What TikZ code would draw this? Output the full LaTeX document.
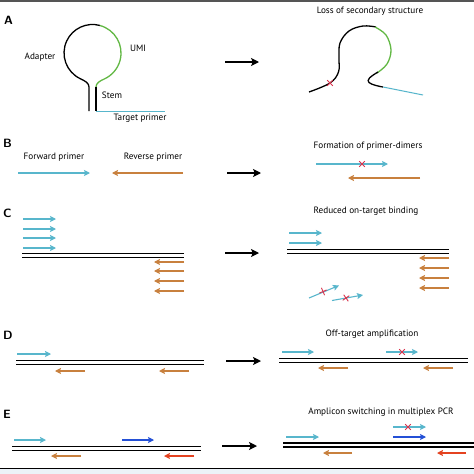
\documentclass[tikz,border=0pt]{standalone}
\usepackage{fontspec}
\setmainfont{PT Sans}
\usetikzlibrary{arrows.meta}
\definecolor{cyanP}{RGB}{88,182,204}
\definecolor{orangeP}{RGB}{200,128,62}
\definecolor{redX}{RGB}{218,52,78}
\definecolor{blueP}{RGB}{36,80,214}
\definecolor{redP}{RGB}{228,66,32}
\definecolor{greenP}{RGB}{98,184,68}
\definecolor{topbar}{RGB}{85,85,85}
\definecolor{botfill}{RGB}{236,242,248}
\tikzset{
  prim/.style={line width=1.1pt,-{Stealth[length=6pt,width=6pt,inset=1.2pt]}},
  fw/.style={prim,cyanP},
  rv/.style={prim,orangeP},
  bw/.style={prim,blueP},
  rr/.style={prim,redP},
  bigarr/.style={line width=1.3pt,black,-{Stealth[length=8pt,width=8pt,inset=1.8pt]}},
  dna/.style={line width=1.2pt,black},
  lbl/.style={font=\fontsize{9.2}{11}\selectfont,inner sep=0pt},
  panel/.style={font=\sffamily\bfseries\fontsize{12}{14}\selectfont,inner sep=0pt,anchor=west},
  xmark/.pic={\draw[redX,line width=0.9pt] (-2.8,-2.8)--(2.8,2.8) (-2.8,2.8)--(2.8,-2.8);}
}
\begin{document}
\begin{tikzpicture}[x=1pt,y=-1pt]
\useasboundingbox (0,0) rectangle (474,474);
\fill[white] (0,0) rectangle (474,474);
\fill[topbar] (0,0) rectangle (474,2.2);
\fill[botfill] (0,469) rectangle (474,474);
\draw[black,line width=1.3pt] (0,468.4) -- (474,468.4);

% panel labels
\node[panel] (A) at (4,20) {A};
\node[panel] (B) at (3,143) {B};
\node[panel] (C) at (3,213) {C};
\node[panel] (D) at (3,335) {D};
\node[panel] (E) at (3,414) {E};

% ---------- A left
\draw[line width=1.3pt,black] (89,111) -- (89,87) .. controls (89,83) and (85,81) .. (80.5,78.8)
   arc[start angle=115,end angle=285,radius=28.5];
\draw[line width=1.3pt,greenP] (99.9,25.5) arc[start angle=285,end angle=425,radius=28.5]
   .. controls (100,80.9) and (96,83) .. (96,87);
\draw[line width=1.3pt,black] (96,86.5) -- (96,111);
\draw[line width=1pt,cyanP] (96,111) -- (165,111);
\node[lbl] (adapter) at (40,57) {Adapter};
\node[lbl] (umi) at (138,48) {UMI};
\node[lbl] (stem) at (112,95) {Stem};
\node[lbl] (tp) at (140,118) {Target primer};

\coordinate (a1) at (225,62); \coordinate (a2) at (259,62);
\draw[bigarr] (a1) -- (a2);

% ---------- A right
\node[lbl] (loss) at (370,11) {Loss of secondary structure};
\draw[line width=1.3pt,black] plot[smooth,tension=0.6] coordinates
  {(309,92) (330,83) (338.5,72) (339,58) (340,43) (349,31) (363,26) (376,27)};
\draw[line width=1.3pt,greenP] plot[smooth,tension=0.6] coordinates
  {(375,27) (386,35) (391,50) (387,64) (377,73)};
\draw[line width=1.3pt,black] plot[smooth,tension=0.7] coordinates
  {(378,72) (369.5,78) (369,82.5) (376,85.5) (383,87)};
\draw[line width=1pt,cyanP] (383,87) -- (423,95);
\pic at (330,83) {xmark};

% ---------- B
\node[lbl] (fwd) at (54,157) {Forward primer};
\node[lbl] (rev) at (153,157) {Reverse primer};
\coordinate (b1) at (18,173); \coordinate (b2) at (90,173);
\draw[fw] (b1) -- (b2);
\coordinate (b3) at (183,173); \coordinate (b4) at (112,173);
\draw[rv] (b3) -- (b4);
\coordinate (b5) at (227,173); \coordinate (b6) at (261,173);
\draw[bigarr] (b5) -- (b6);
\node[lbl] (form) at (368,146) {Formation of primer-dimers};
\coordinate (b7) at (316,164); \coordinate (b8) at (388,164);
\draw[fw] (b7) -- (b8);
\pic at (362,164) {xmark};
\coordinate (b9) at (420,178); \coordinate (b10) at (348,178);
\draw[rv] (b9) -- (b10);

% ---------- C left
\foreach \y in {219,229,238,248} \draw[fw] (23,\y) -- (56,\y);
\draw[dna] (22,253.5) -- (184,253.5);
\draw[dna] (22,257.5) -- (184,257.5);
\foreach \y in {262,271,281,291} \draw[rv] (184,\y) -- (154,\y);
\coordinate (c1) at (225,253); \coordinate (c2) at (259,253);
\draw[bigarr] (c1) -- (c2);

% ---------- C right
\node[lbl] (red) at (366,211) {Reduced on-target binding};
\foreach \y in {233,243} \draw[fw] (289,\y) -- (322,\y);
\draw[dna] (287,249.7) -- (449,249.7);
\draw[dna] (287,253.7) -- (449,253.7);
\foreach \y in {258,268,278,288} \draw[rv] (449,\y) -- (419,\y);
\draw[fw] (309,298) -- (339,285.5);
\pic[rotate=-22] at (323,291.5) {xmark};
\draw[fw] (332,300.5) -- (363,295);
\pic[rotate=-10] at (346,298) {xmark};

% ---------- D left
\draw[fw] (17,354) -- (51,354);
\draw[dna] (16,360.5) -- (204,360.5);
\draw[dna] (16,364.5) -- (204,364.5);
\draw[rv] (85,371) -- (55,371);
\draw[rv] (189,371) -- (159,371);
\coordinate (d1) at (226,361); \coordinate (d2) at (261,361);
\draw[bigarr] (d1) -- (d2);

% ---------- D right
\node[lbl] (off) at (372,334) {Off-target amplification};
\draw[fw] (282,352) -- (314,352);
\draw[fw] (386,352) -- (418,352);
\pic at (402,352) {xmark};
\draw[dna] (279,358.5) -- (468,358.5);
\draw[dna] (279,362.5) -- (468,362.5);
\draw[rv] (348,368) -- (318,368);
\draw[rv] (453,368) -- (423,368);

% ---------- E left
\draw[fw] (14,440) -- (46,440);
\draw[bw] (122,440) -- (154,440);
\draw[dna] (12,446.5) -- (201,446.5);
\draw[dna] (12,450.5) -- (201,450.5);
\draw[rv] (81,456) -- (51,456);
\draw[rr] (194,456) -- (164,456);
\coordinate (e1) at (222,446); \coordinate (e2) at (257,446);
\draw[bigarr] (e1) -- (e2);

% ---------- E right
\node[lbl] (amp) at (381,412) {Amplicon switching in multiplex PCR};
\draw[fw] (393,427) -- (426,427);
\pic at (408,427) {xmark};
\draw[bw] (393,437) -- (426,437);
\draw[fw] (286,437) -- (319,437);
\draw[dna] (283,443) -- (474,443);
\draw[dna] (283,447) -- (474,447);
\draw[rv] (352,453) -- (323,453);
\draw[rr] (466,453) -- (437,453);
\end{tikzpicture}
\end{document}
